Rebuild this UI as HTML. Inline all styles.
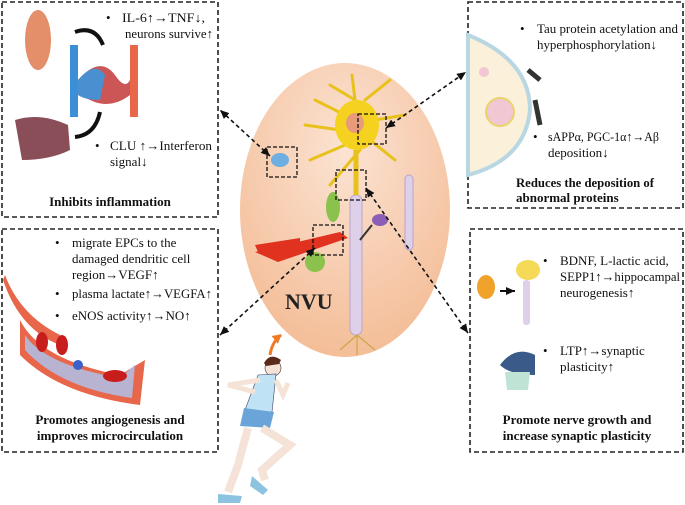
<!DOCTYPE html>
<html><head><meta charset="utf-8"><style>
html,body{margin:0;padding:0;background:#fff;}
svg{display:block;}
text{font-family:"Liberation Serif",serif;fill:#111;}
.t{font-size:13px;}
.b{font-size:13px;font-weight:bold;}
</style></head><body>
<svg width="685" height="505" viewBox="0 0 685 505" xmlns="http://www.w3.org/2000/svg">
<defs>
<radialGradient id="eg" cx="0.5" cy="0.3" r="0.8">
<stop offset="0" stop-color="#fbe3d3"/><stop offset="1" stop-color="#f3b88f"/>
</radialGradient>
<marker id="ah" markerUnits="userSpaceOnUse" markerWidth="10" markerHeight="10" refX="9" refY="5" orient="auto-start-reverse"><path d="M0,1 L9,5 L0,9 z" fill="#111"/></marker>
<marker id="oh" markerUnits="userSpaceOnUse" markerWidth="10" markerHeight="10" refX="8" refY="5" orient="auto"><path d="M0,0 L9,5 L0,10 z" fill="#f07a22"/></marker>
</defs>
<g fill="none" stroke="#222" stroke-width="1.6" stroke-dasharray="5,3">
<rect x="2" y="2" width="216" height="215"/>
<rect x="468" y="2" width="215" height="206"/>
<rect x="2" y="229" width="216" height="223"/>
<rect x="470" y="229" width="213" height="223"/>
</g>
<ellipse cx="345" cy="210" rx="105" ry="147" fill="url(#eg)"/>
<g stroke="#e8c21a" stroke-width="3" fill="none" stroke-linecap="round">
<path d="M355,100 L352,75 M355,100 L330,85 M365,100 L390,80 M345,115 L315,100 M340,130 L305,125 M345,145 L310,160 M370,140 L395,160 M375,120 L405,115 M360,150 L330,185"/>
</g>
<ellipse cx="357" cy="125" rx="22" ry="25" fill="#f4d21f"/>
<ellipse cx="355" cy="123" rx="9" ry="10" fill="#e79b7a"/>
<g fill="#ddd0e8" stroke="#b9a4cc" stroke-width="1">
<rect x="350" y="195" width="12" height="140" rx="6"/>
<rect x="405" y="175" width="8" height="75" rx="4"/>
</g>
<path d="M356,150 L356,195" stroke="#e8c21a" stroke-width="5"/>
<path d="M357,335 L340,350 M357,335 L357,355 M357,335 L375,350" stroke="#c9a84a" stroke-width="1.2" fill="none"/>
<path d="M255,252 L340,232 L348,238 L278,262 Z" fill="#e0321f"/>
<path d="M255,245 L300,238 L300,244 L258,252Z" fill="#e0321f"/>
<ellipse cx="333" cy="207" rx="7" ry="15" fill="#8ac24d"/>
<ellipse cx="315" cy="262" rx="10" ry="10" fill="#8ac24d"/>
<ellipse cx="380" cy="220" rx="8" ry="6" fill="#8a5fb5"/>
<path d="M372,225 L360,240" stroke="#333" stroke-width="2"/>
<ellipse cx="280" cy="160" rx="9" ry="7" fill="#6eaee0"/>
<g fill="none" stroke="#111" stroke-width="1.3" stroke-dasharray="4,2">
<rect x="267" y="147" width="30" height="30"/>
<rect x="358" y="114" width="28" height="30"/>
<rect x="336" y="170" width="30" height="30"/>
<rect x="313" y="225" width="30" height="30"/>
</g>
<text x="285" y="309" style="font-size:22px;font-weight:bold;fill:#222">NVU</text>
<g stroke="#111" stroke-width="1.6" stroke-dasharray="4,3" fill="none" marker-end="url(#ah)" marker-start="url(#ah)">
<path d="M270,156 L220,110"/>
<path d="M386,128 L466,72"/>
<path d="M315,248 L220,335"/>
<path d="M366,188 L468,333"/>
</g>
<!-- top-left -->
<ellipse cx="38" cy="40" rx="13" ry="30" fill="#e48e6a"/>
<path d="M15,120 Q40,112 68,125 L70,150 Q50,160 22,160Z" fill="#8a4e58"/>
<rect x="70" y="45" width="8" height="72" fill="#3b8fd6"/>
<rect x="130" y="45" width="8" height="72" fill="#e8664a"/>
<path d="M78,80 Q100,55 115,75 Q125,90 130,80 L130,95 Q110,110 90,100 Q80,95 78,95Z" fill="#c55"/>
<path d="M78,80 Q95,60 105,75 L100,100 Q85,100 78,95Z" fill="#4a8fd0"/>
<path d="M75,32 Q95,25 103,45" stroke="#111" stroke-width="4" fill="none"/>
<path d="M75,137 Q95,135 100,112" stroke="#111" stroke-width="4" fill="none"/>
<text class="t" x="106" y="22">•</text><text class="t" x="122" y="22" textLength="83" lengthAdjust="spacingAndGlyphs">IL-6↑→TNF↓,</text>
<text class="t" x="125" y="38" textLength="88" lengthAdjust="spacingAndGlyphs">neurons survive↑</text>
<text class="t" x="95" y="150">•</text><text class="t" x="110" y="150" textLength="102" lengthAdjust="spacingAndGlyphs">CLU ↑→Interferon</text>
<text class="t" x="110" y="166">signal↓</text>
<text class="b" x="110" y="206" text-anchor="middle">Inhibits inflammation</text>
<!-- top-right -->
<path d="M468,35 Q530,60 530,110 Q525,160 468,175Z" fill="#fbf0da" stroke="#b9d7e3" stroke-width="4"/>
<circle cx="500" cy="112" r="14" fill="#f0c7d2" stroke="#e8d36c" stroke-width="2"/>
<circle cx="484" cy="72" r="5" fill="#f0c7d2"/>
<path d="M528,70 L540,80 M535,100 L540,125" stroke="#333" stroke-width="5"/>
<text class="t" x="520" y="33">•</text><text class="t" x="537" y="33" textLength="141" lengthAdjust="spacingAndGlyphs">Tau protein acetylation and</text>
<text class="t" x="537" y="49" textLength="120" lengthAdjust="spacingAndGlyphs">hyperphosphorylation↓</text>
<text class="t" x="533" y="141">•</text><text class="t" x="548" y="141" textLength="111" lengthAdjust="spacingAndGlyphs">sAPPα, PGC-1α↑→Aβ</text>
<text class="t" x="548" y="157">deposition↓</text>
<text class="b" x="516" y="187" textLength="138" lengthAdjust="spacingAndGlyphs">Reduces the deposition of</text>
<text class="b" x="516" y="202">abnormal proteins</text>
<!-- bottom-left -->
<text class="t" x="55" y="247">•</text><text class="t" x="72" y="247">migrate EPCs to the</text>
<text class="t" x="72" y="263">damaged dendritic cell</text>
<text class="t" x="72" y="279">region→VEGF↑</text>
<text class="t" x="55" y="298">•</text><text class="t" x="72" y="298" textLength="140" lengthAdjust="spacingAndGlyphs">plasma lactate↑→VEGFA↑</text>
<text class="t" x="55" y="320">•</text><text class="t" x="72" y="320">eNOS activity↑→NO↑</text>
<path d="M3,280 Q20,330 60,345 L60,335 Q20,315 5,275Z" fill="#e8664a"/>
<path d="M20,320 Q40,360 120,375 L145,360 L140,405 Q60,395 20,355Z" fill="#e8664a"/>
<path d="M25,335 Q45,365 120,378 L135,365 L132,398 Q60,388 25,350Z" fill="#b7b3d0"/>
<ellipse cx="42" cy="342" rx="6" ry="10" fill="#c81d1d"/>
<ellipse cx="62" cy="345" rx="6" ry="10" fill="#c81d1d"/>
<ellipse cx="115" cy="376" rx="12" ry="6" fill="#c81d1d"/>
<circle cx="78" cy="365" r="5" fill="#3a62c8"/>
<text class="b" x="110" y="424" text-anchor="middle">Promotes angiogenesis and</text>
<text class="b" x="110" y="440" text-anchor="middle">improves microcirculation</text>
<!-- bottom-right -->
<ellipse cx="486" cy="287" rx="9" ry="12" fill="#f0a22a"/>
<path d="M500,291 L515,291" stroke="#111" stroke-width="2" marker-end="url(#ah)"/>
<ellipse cx="528" cy="270" rx="12" ry="10" fill="#f5d957"/>
<rect x="523" y="280" width="7" height="45" rx="3" fill="#ddd0e8"/>
<path d="M500,365 Q515,345 535,355 L535,375 Q510,375 500,365Z" fill="#3a5a8a"/>
<path d="M505,372 L530,372 L528,390 L507,390Z" fill="#bfe3d5"/>
<text class="t" x="543" y="265">•</text><text class="t" x="560" y="265">BDNF, L-lactic acid,</text>
<text class="t" x="560" y="281" textLength="120" lengthAdjust="spacingAndGlyphs">SEPP1↑→hippocampal</text>
<text class="t" x="560" y="297">neurogenesis↑</text>
<text class="t" x="543" y="355">•</text><text class="t" x="560" y="355">LTP↑→synaptic</text>
<text class="t" x="560" y="371">plasticity↑</text>
<text class="b" x="577" y="424" text-anchor="middle">Promote nerve growth and</text>
<text class="b" x="577" y="440" text-anchor="middle">increase synaptic plasticity</text>
<!-- runner -->
<path d="M270,355 Q272,342 281,335" stroke="#f07a22" stroke-width="3" fill="none" marker-end="url(#oh)"/>
<circle cx="273" cy="368" r="8" fill="#f6e3d8" stroke="#333" stroke-width="0.6"/>
<path d="M264,363 Q270,352 281,360 L279,364 L266,366Z" fill="#5a2a1a"/>
<path d="M258,375 L276,374 L272,412 L245,410Z" fill="#bfe3f5" stroke="#446" stroke-width="0.6"/>
<path d="M244,408 L274,412 L270,428 L240,426Z" fill="#6aa4d8"/>
<path d="M260,380 L228,385 L255,392" stroke="#f6e3d8" stroke-width="5" fill="none"/>
<path d="M276,380 L283,395 L288,383" stroke="#f6e3d8" stroke-width="5" fill="none"/>
<path d="M248,428 L238,465 L228,492" stroke="#f6e3d8" stroke-width="8" fill="none"/>
<path d="M262,428 L290,445 L262,470 L265,480" stroke="#f6e3d8" stroke-width="8" fill="none"/>
<path d="M218,494 L242,496 L240,503 L218,503Z" fill="#8cc3e0"/>
<path d="M252,476 L268,490 L263,495 L250,486Z" fill="#8cc3e0"/>
</svg>
</body></html>
